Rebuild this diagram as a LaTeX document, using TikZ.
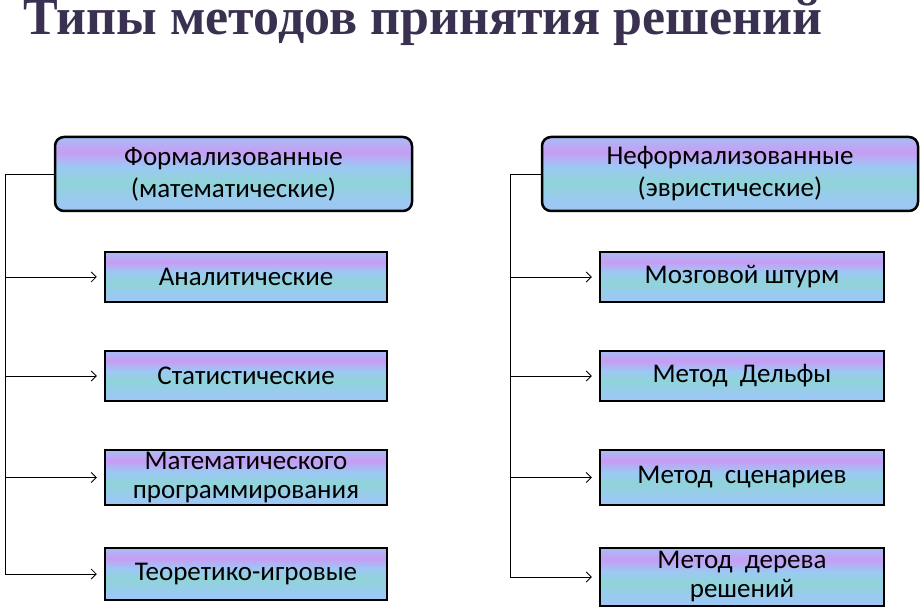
\documentclass[tikz,border=0pt]{standalone}
\usepackage{fontspec}
\usetikzlibrary{arrows.meta}
\setmainfont{Carlito}
\newfontfamily\titlefont{Liberation Serif}
\definecolor{bA}{HTML}{9CC8F4}
\definecolor{bP}{HTML}{C89CF4}
\definecolor{bT}{HTML}{90D4D8}
\definecolor{titlec}{HTML}{3A3050}
\pgfdeclareverticalshading{boxshade}{100bp}{
 color(0bp)=(bA); color(30bp)=(bA); color(45bp)=(bT); color(55bp)=(bA); color(65bp)=(bP); color(78bp)=(bA); color(100bp)=(bA)}
\begin{document}
\begin{tikzpicture}[x=1pt,y=-1pt,
 headbox/.style={draw=black,line width=2.5pt,rounded corners=9pt,shading=boxshade,align=center,font=\fontsize{27}{32}\selectfont,inner sep=0pt},
 itembox/.style={draw=black,line width=2.5pt,shading=boxshade,align=center,font=\fontsize{27}{29}\selectfont,inner sep=0pt},
 conn/.style={draw=black,line width=0.8pt},
 arr/.style={conn,-{Straight Barb[length=5pt,width=10pt]}}]
\useasboundingbox (0,0) rectangle (921,609);
\node[anchor=west,text=titlec,font=\titlefont\bfseries\fontsize{52}{56}\selectfont] (title) at (20,22) {Типы методов принятия решений};
\node[headbox,minimum width=357pt,minimum height=74pt] (L) at (233.5,174) {Формализованные\\(математические)};
\node[headbox,minimum width=376pt,minimum height=74pt] (R) at (730,174) {Неформализованные\\(эвристические)};
\foreach \n/\y/\h/\t in {l1/277/50/Аналитические,l2/376/50/Статистические,l3/477.5/55/{Математического\\программирования},l4/574/52/Теоретико-игровые}
 \node[itembox,minimum width=282pt,minimum height=\h pt] (\n) at (246,\y) {\t};
\foreach \n/\y/\h/\t in {r1/277/50/Мозговой штурм,r2/376/50/Метод~~Дельфы,r3/477.5/55/Метод~~сценариев,r4/577/58/{Метод~~дерева\\решений}}
 \node[itembox,minimum width=284pt,minimum height=\h pt] (\n) at (742,\y) {\t};
\coordinate (lt) at (5,174); \coordinate (lb) at (5,574);
\coordinate (rt) at (510,174); \coordinate (rb) at (510,577);
\draw[conn] (L.west) -- (lt) -- (lb);
\draw[conn] (R.west) -- (rt) -- (rb);
\foreach \n in {l1,l2,l3,l4} \draw[arr] (lt|-\n.west) -- ([xshift=-7pt]\n.west);
\foreach \n in {r1,r2,r3,r4} \draw[arr] (rt|-\n.west) -- ([xshift=-7pt]\n.west);
\end{tikzpicture}
\end{document}
